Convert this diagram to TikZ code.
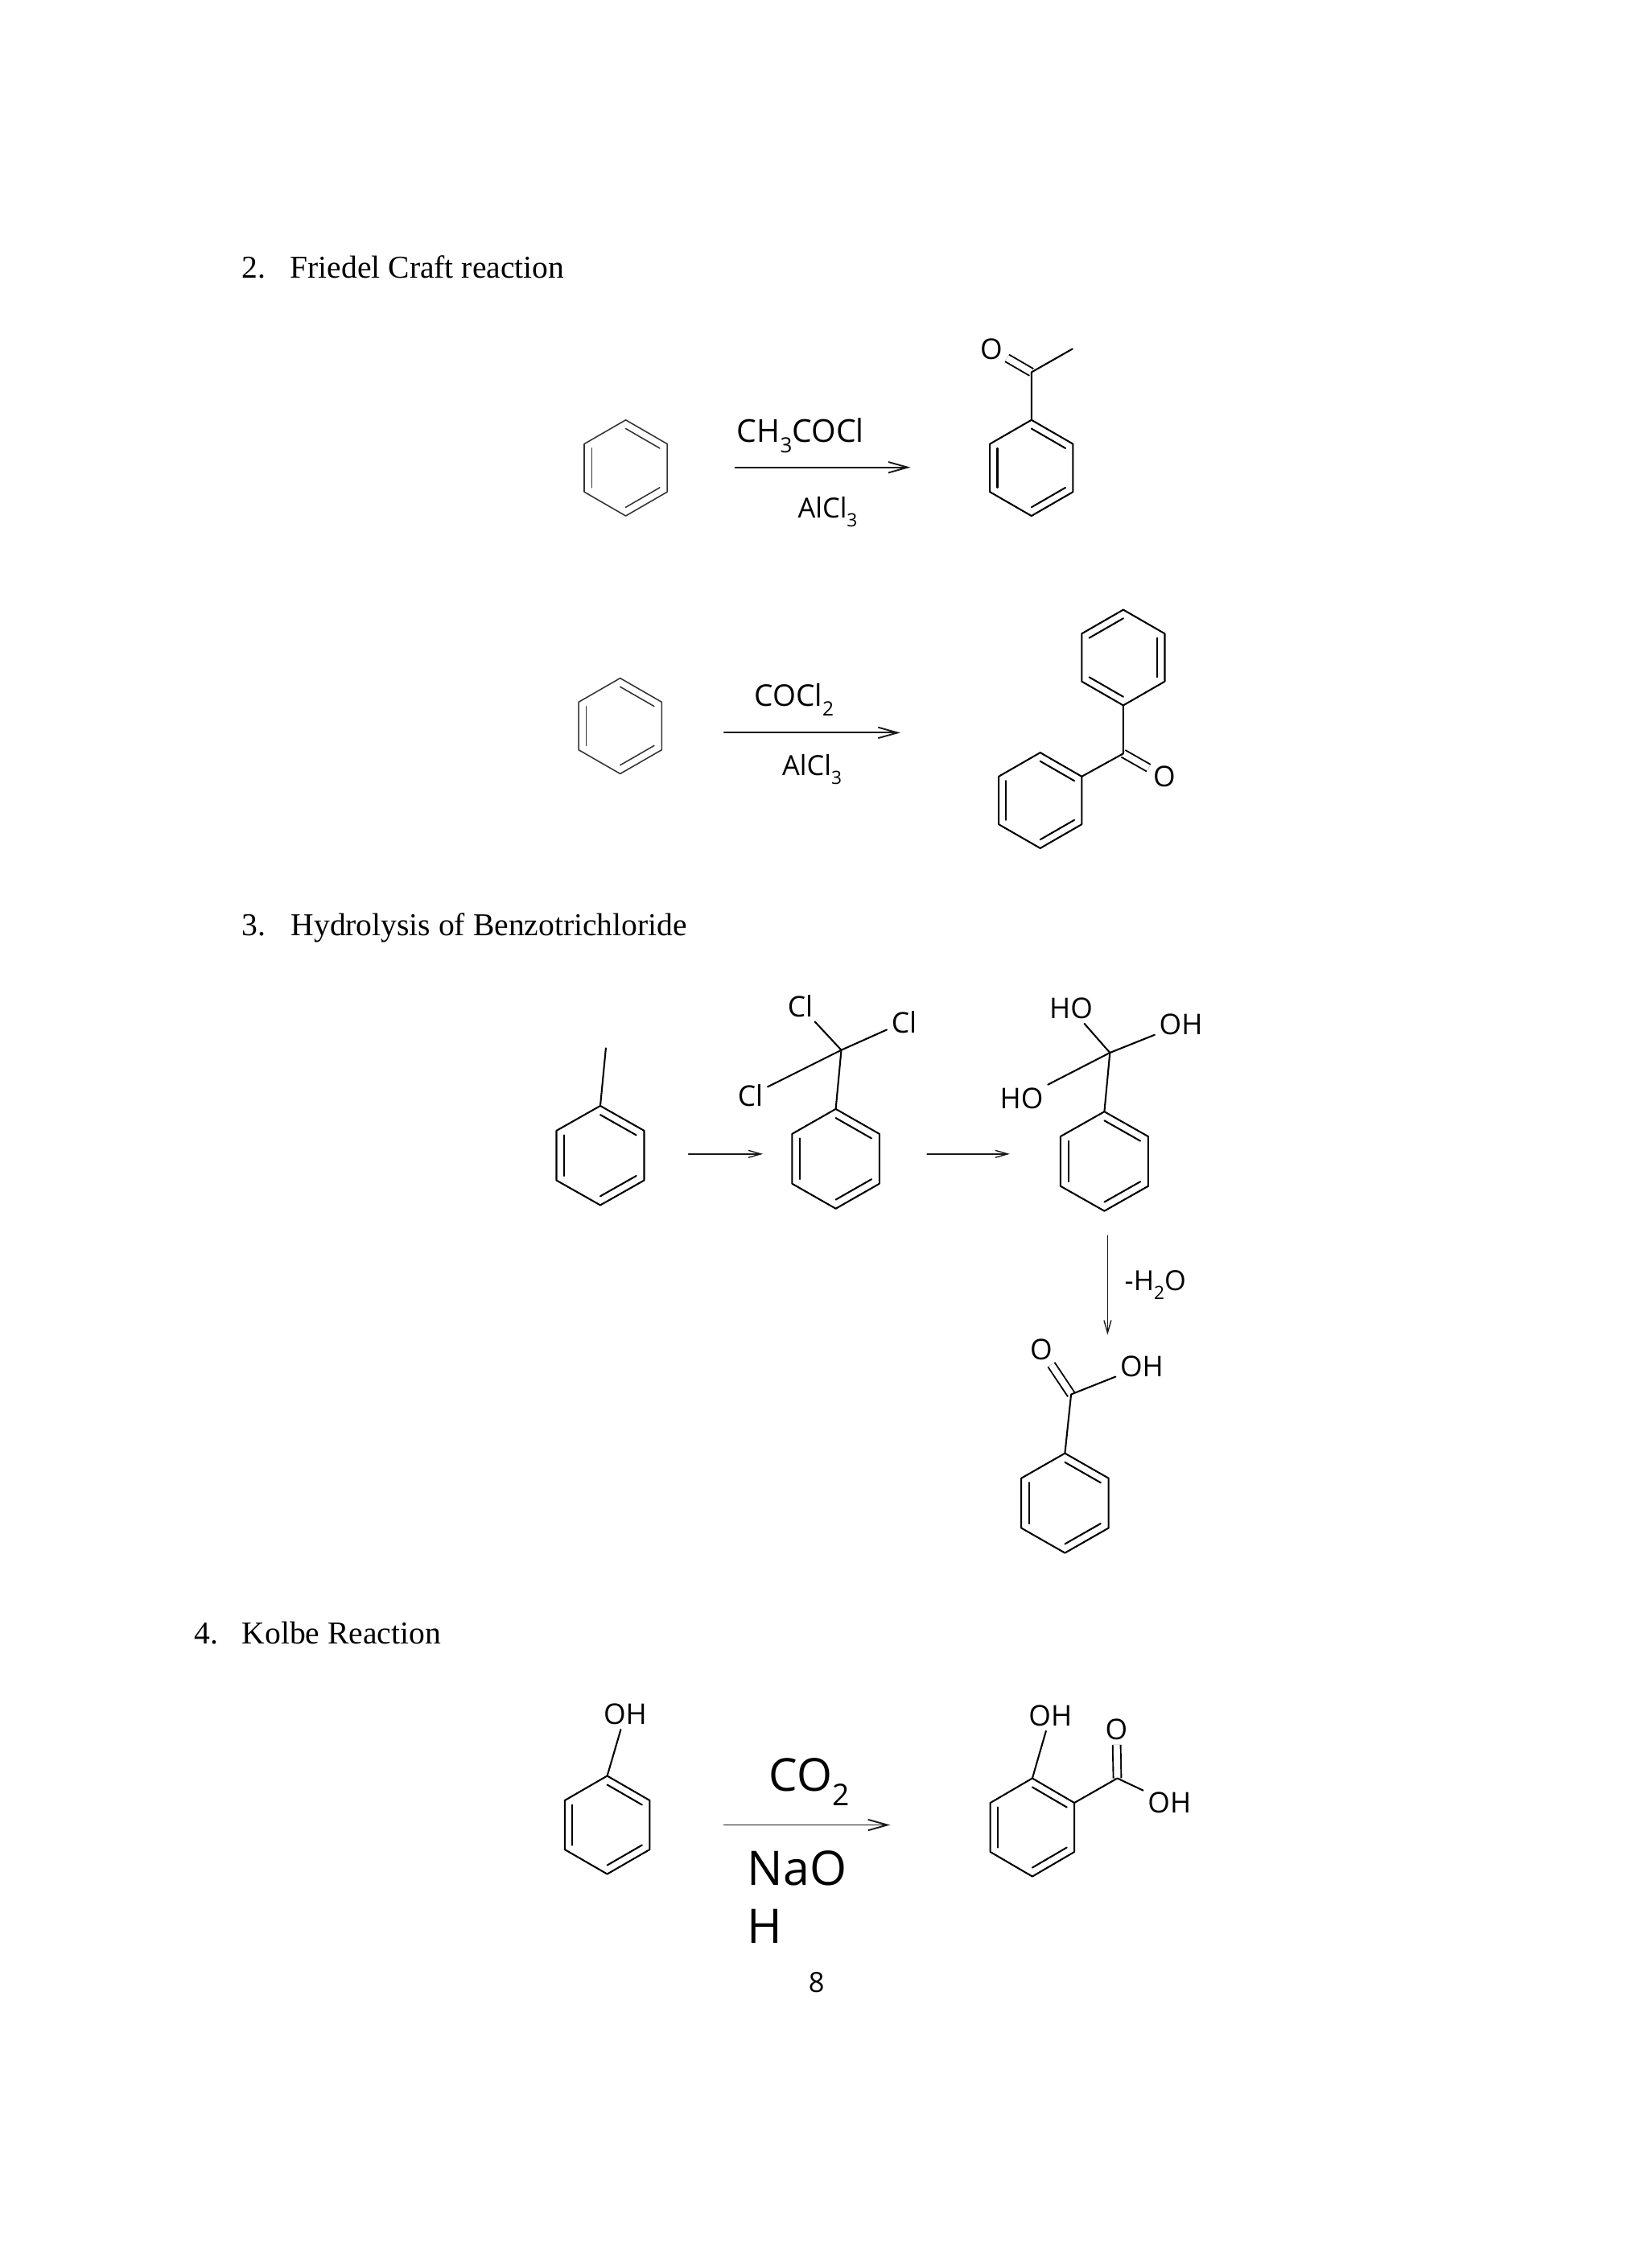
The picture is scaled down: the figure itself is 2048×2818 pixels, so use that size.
\documentclass[tikz,border=0pt]{standalone}
\usepackage{fontspec}
\setmainfont{Liberation Serif}
\newfontfamily\chemfont{Open Sans}
\usetikzlibrary{calc,arrows.meta}
\tikzset{
	bond/.style={line width=0.6pt,black},
	lightbond/.style={line width=0.45pt,black!80},
	dbond/.style={double,double distance=2.3pt,line width=0.55pt,line cap=butt,black},
	reaction/.style={-{Straight Barb[length=7pt,width=3.9pt]},line width=0.55pt,black!90},
	smallreaction/.style={-{Straight Barb[length=4.5pt,width=2.6pt]},line width=0.4pt,black!90},
	atomlabel/.style={font=\chemfont\fontsize{10.3}{12}\selectfont,inner sep=1.5pt},
	reagent/.style={font=\chemfont\fontsize{10}{12}\selectfont,inner sep=0pt,anchor=base west},
	heading/.style={font=\fontsize{11.5}{14}\selectfont,inner sep=0pt,anchor=base west}
}
\newcommand{\lowsub}[1]{\raisebox{-0.33em}{\scalebox{0.66}{#1}}}
\newcommand{\benzring}[6][1/2,3/4,5/6]{
	\coordinate (#2) at (#3,#4);
	\coordinate (#2-1) at (#3,{#4-#6});
	\coordinate (#2-2) at ({#3+#5},{#4-#6/2});
	\coordinate (#2-3) at ({#3+#5},{#4+#6/2});
	\coordinate (#2-4) at (#3,{#4+#6});
	\coordinate (#2-5) at ({#3-#5},{#4+#6/2});
	\coordinate (#2-6) at ({#3-#5},{#4-#6/2});
	\draw[bond] (#2-1)--(#2-2)--(#2-3)--(#2-4)--(#2-5)--(#2-6)--cycle;
	\foreach \a/\b in {#1} \draw[bond] ($(#2)!0.82!(#2-\a)$)--($(#2)!0.82!(#2-\b)$);
}
\begin{document}
\begin{tikzpicture}[x=0.2907pt,y=-0.2907pt,line join=round,line cap=round]
	\useasboundingbox (0,0) rectangle (2048,2818);
	% section 2
	\node[heading] (numtwo) at (300,345.5) {2.};
	\node[heading] (titletwo) at (360,345.5) {Friedel Craft reaction};
	\begin{scope}[bond/.style={lightbond}]
		\benzring{benzA}{777.6}{581.4}{51.6}{59.6}
		\benzring{benzB}{770.7}{902}{51.6}{59.4}
	\end{scope}
	\benzring{phA}{1281.8}{581.4}{51.6}{59.6}
	\coordinate (coA) at (1281.8,462.5);
	\coordinate (meA) at (1332.8,433.5);
	\node[atomlabel] (oA) at (1231.9,433.5) {O};
	\draw[dbond] (coA)--(oA);
	\draw[bond] (phA-1)--(coA)--(meA);
	\coordinate (arrAs) at (913.5,580.7);
	\coordinate (arrAe) at (1131.5,580.7);
	\draw[reaction] (arrAs)--(arrAe);
	\node[reagent,font=\chemfont\fontsize{11.4}{14}\selectfont] (acyl) at (915.3,549.5) {CH\lowsub{3}COCl};
	\node[reagent] (alclA) at (990.9,643.5) {AlCl\lowsub{3}};
	\benzring[1/6,2/3,4/5]{phB}{1395.9}{817}{51.6}{59.4}
	\benzring{phC}{1292.7}{994.5}{51.6}{59.4}
	\coordinate (coB) at (1395.9,936.3);
	\node[atomlabel] (oB) at (1447,965.3) {O};
	\draw[dbond] (coB)--(oB);
	\draw[bond] (phB-4)--(coB)--(phC-2);
	\coordinate (arrBs) at (899.8,910.4);
	\coordinate (arrBe) at (1118.9,910.4);
	\draw[reaction] (arrBs)--(arrBe);
	\node[reagent,font=\chemfont\fontsize{10.8}{13}\selectfont] (phosgene) at (937,877.5) {COCl\lowsub{2}};
	\node[reagent] (alclB) at (971.5,963.5) {AlCl\lowsub{3}};
	% section 3
	\node[heading] (numthree) at (300,1162.5) {3.};
	\node[heading] (titlethree) at (361,1162.5) {Hydrolysis of Benzotrichloride};
	\benzring{phD}{746}{1435.7}{54.5}{61.7}
	\coordinate (meD) at (752.9,1302.3);
	\draw[bond] (phD-1)--(meD);
	\coordinate (arrCs) at (855.6,1433.8);
	\coordinate (arrCe) at (948,1433.8);
	\draw[smallreaction] (arrCs)--(arrCe);
	\benzring{phE}{1038.6}{1439.8}{54.2}{61.9}
	\coordinate (cE) at (1045.5,1304.7);
	\node[atomlabel] (clE) at (994.4,1249.8) {Cl};
	\node[atomlabel] (clF) at (1123.5,1269.8) {Cl};
	\node[atomlabel] (clG) at (932.5,1361.1) {Cl};
	\draw[bond] (phE-1)--(cE);
	\draw[bond] (cE)--(clE);
	\draw[bond] (cE)--(clF);
	\draw[bond] (cE)--(clG);
	\coordinate (arrDs) at (1152.1,1433.8);
	\coordinate (arrDe) at (1254.8,1433.8);
	\draw[smallreaction] (arrDs)--(arrDe);
	\benzring{phF}{1372.4}{1442.9}{54.5}{61.7}
	\coordinate (cF) at (1379.3,1308);
	\node[atomlabel] (hoA) at (1331,1253) {HO};
	\node[atomlabel] (hoB) at (1467.6,1272.7) {OH};
	\node[atomlabel] (hoC) at (1269.5,1364.5) {HO};
	\draw[bond] (phF-1)--(cF);
	\draw[bond] (cF)--(hoA);
	\draw[bond] (cF)--(hoB);
	\draw[bond] (cF)--(hoC);
	\coordinate (arrEs) at (1376.4,1535.1);
	\coordinate (arrEe) at (1376.4,1658.4);
	\draw[smallreaction] (arrEs)--(arrEe);
	\node[reagent] (water) at (1397,1603.5) {-H\lowsub{2}O};
	\benzring{phG}{1323.4}{1867.6}{54.2}{61.9}
	\coordinate (cG) at (1331.1,1732.5);
	\node[atomlabel] (oG) at (1293.8,1676.6) {O};
	\node[atomlabel] (hoG) at (1419,1697.5) {OH};
	\draw[dbond] (cG)--(oG);
	\draw[bond] (phG-1)--(cG)--(hoG);
	% section 4
	\node[heading] (numfour) at (241,2042) {4.};
	\node[heading] (titlefour) at (300,2042) {Kolbe Reaction};
	\benzring{phH}{754.6}{2267.5}{52.8}{61}
	\node[atomlabel] (hoH) at (777,2130) {OH};
	\draw[bond] (phH-1)--(hoH);
	\coordinate (arrFs) at (899.8,2267.5);
	\coordinate (arrFe) at (1106.3,2267.5);
	\draw[reaction] (arrFs)--(arrFe);
	\node[reagent,font=\chemfont\fontsize{16.4}{20}\selectfont] (carbon) at (955,2225) {CO\lowsub{2}};
	\node[reagent,font=\chemfont\fontsize{17.2}{21}\selectfont,anchor=north west,align=left] (naoh) at (928,2299) {NaO\\H};
	\benzring{phI}{1282.9}{2270.5}{52.2}{61}
	\node[atomlabel] (hoI) at (1305.3,2132) {OH};
	\draw[bond] (phI-1)--(hoI);
	\coordinate (cI) at (1388.5,2209.5);
	\node[atomlabel] (oI) at (1387.3,2149) {O};
	\node[atomlabel] (hoJ) at (1453.3,2240) {OH};
	\draw[dbond] (cI)--(oI);
	\draw[bond] (phI-2)--(cI)--(hoJ);
	\node[atomlabel,font=\chemfont\fontsize{10}{12}\selectfont] (pagenum) at (1014.8,2463) {8};
\end{tikzpicture}
\end{document}
